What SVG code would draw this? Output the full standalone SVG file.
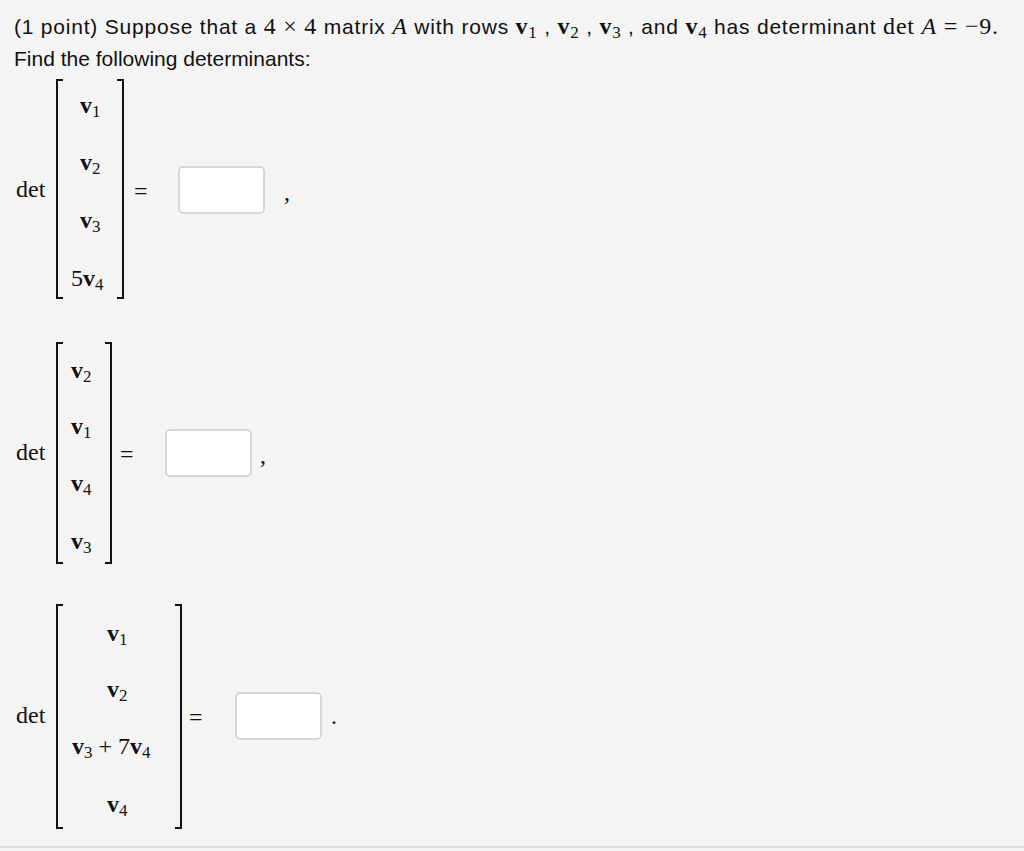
<svg xmlns="http://www.w3.org/2000/svg" width="1024" height="851" viewBox="0 0 1024 851">
<style>
.s{font-family:"Liberation Sans",Arial,sans-serif;font-size:21px;fill:#111}
.m{font-family:"Liberation Serif","Times New Roman",serif;font-size:24px;fill:#111}
.b{font-weight:bold}
.sub{font-size:17px}
.br{fill:none;stroke:#111;stroke-width:2}
.box{fill:#fff;stroke:#ccc;stroke-width:1.5}
</style>
<rect width="1024" height="851" fill="#f4f4f4"/>
<line x1="0" y1="847" x2="1024" y2="847" stroke="#ddd" stroke-width="2"/>
<g id="header">
<text x="14" y="34" class="s" textLength="984" lengthAdjust="spacing">(1 point) Suppose that a <tspan class="m">4 × 4</tspan> matrix <tspan class="m" font-style="italic">A</tspan> with rows <tspan class="m b">v</tspan><tspan class="m sub" dy="4">1</tspan><tspan dy="-4"> , </tspan><tspan class="m b">v</tspan><tspan class="m sub" dy="4">2</tspan><tspan dy="-4"> , </tspan><tspan class="m b">v</tspan><tspan class="m sub" dy="4">3</tspan><tspan dy="-4"> , and </tspan><tspan class="m b">v</tspan><tspan class="m sub" dy="4">4</tspan><tspan dy="-4"> has determinant </tspan><tspan class="m">det <tspan font-style="italic">A</tspan> = −9.</tspan></text>
<text x="14" y="66" class="s">Find the following determinants:</text>
</g>
<g id="det1">
<text x="16" y="197" class="m">det</text>
<path class="br" d="M63,80 H57 V298 H63 M117,80 H123 V298 H117"/>
<text x="80" y="113" class="m b">v<tspan class="sub" font-weight="normal" dy="4">1</tspan></text>
<text x="80" y="170" class="m b">v<tspan class="sub" font-weight="normal" dy="4">2</tspan></text>
<text x="80" y="228" class="m b">v<tspan class="sub" font-weight="normal" dy="4">3</tspan></text>
<text x="71" y="286" class="m"><tspan>5</tspan><tspan class="b">v</tspan><tspan class="sub" dy="4">4</tspan></text>
<text x="134" y="199" class="m">=</text>
<rect class="box" x="179" y="167" width="85" height="46" rx="4"/>
<text x="284" y="200" class="m">,</text>
</g>
<g id="det2">
<text x="16" y="460" class="m">det</text>
<path class="br" d="M63,343 H57 V563 H63 M105,343 H111 V563 H105"/>
<text x="71" y="378" class="m b">v<tspan class="sub" font-weight="normal" dy="4">2</tspan></text>
<text x="71" y="434" class="m b">v<tspan class="sub" font-weight="normal" dy="4">1</tspan></text>
<text x="71" y="491" class="m b">v<tspan class="sub" font-weight="normal" dy="4">4</tspan></text>
<text x="71" y="549" class="m b">v<tspan class="sub" font-weight="normal" dy="4">3</tspan></text>
<text x="120" y="462" class="m">=</text>
<rect class="box" x="166" y="430" width="85" height="46" rx="4"/>
<text x="260" y="463" class="m">,</text>
</g>
<g id="det3">
<text x="16" y="723" class="m">det</text>
<path class="br" d="M63,605 H57 V828 H63 M175,605 H181 V828 H175"/>
<text x="107" y="641" class="m b">v<tspan class="sub" font-weight="normal" dy="4">1</tspan></text>
<text x="107" y="697" class="m b">v<tspan class="sub" font-weight="normal" dy="4">2</tspan></text>
<text x="72" y="754" class="m"><tspan class="b">v</tspan><tspan class="sub" dy="4">3</tspan><tspan dy="-4"> + 7</tspan><tspan class="b">v</tspan><tspan class="sub" dy="4">4</tspan></text>
<text x="107" y="812" class="m b">v<tspan class="sub" font-weight="normal" dy="4">4</tspan></text>
<text x="189" y="725" class="m">=</text>
<rect class="box" x="236" y="693" width="85" height="46" rx="4"/>
<text x="331" y="724" class="m">.</text>
</g>
</svg>
